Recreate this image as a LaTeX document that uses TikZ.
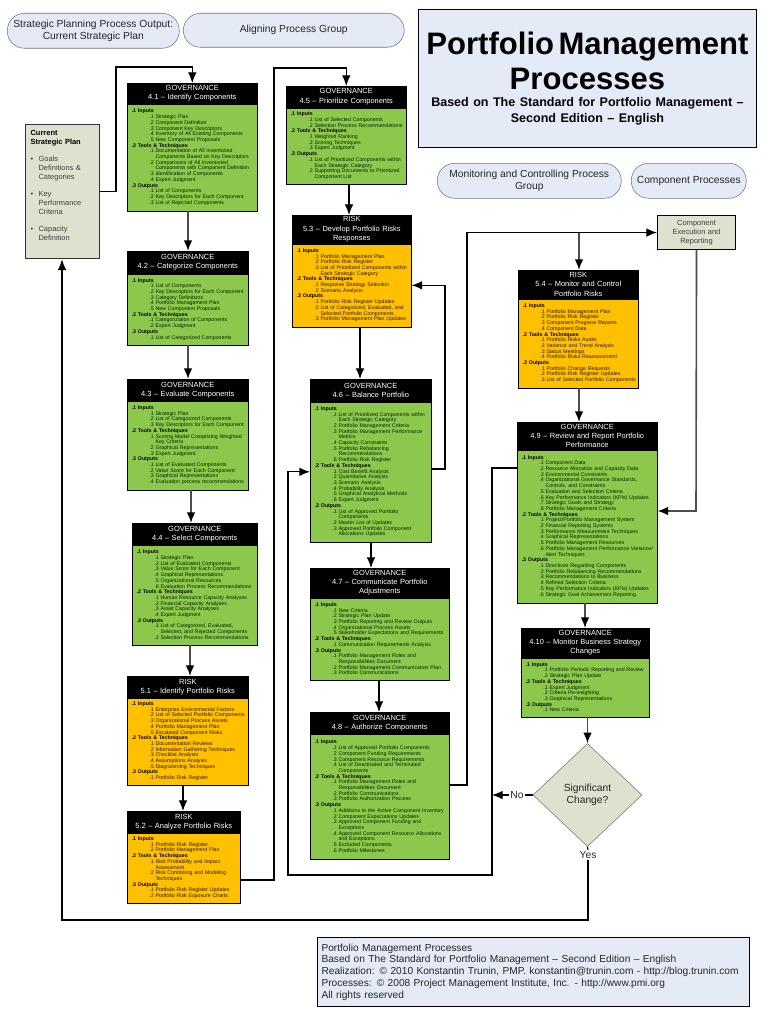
\documentclass[tikz,border=0pt]{standalone}
\usepackage{fontspec}
\setmainfont{Liberation Sans}
\usetikzlibrary{positioning,shapes.geometric,arrows.meta}
\definecolor{govgreen}{HTML}{8CC84B}
\definecolor{riskorange}{HTML}{FFC000}
\definecolor{paleblue}{HTML}{E4EBF6}
\definecolor{sage}{HTML}{DDE1CD}
\newcommand{\pxu}{0.75pt}
% one line of a box body
\newcommand{\secln}[1]{\textcolor{black}{\bfseries #1}\par}
\newcommand{\sInp}{\secln{.1 Inputs}}
\newcommand{\sTT}{\secln{.2 Tools \& Techniques}}
\newcommand{\sOut}{\secln{.3 Outputs}}
\newcommand{\itm}[2]{\makebox[0pt][l]{\hspace*{12.9pt}\makebox[3.6pt][r]{#1}\hspace{1.3pt}#2}\par}
\newcommand{\contln}[1]{\makebox[0pt][l]{\hspace*{17.8pt}#1}\par}
\newcommand{\bul}{\makebox[6pt][l]{\textbullet}}
% id, style, x, y, width, header height, height, header, body
\newcommand{\procbox}[9]{%
  \node[headbox,text width=#5*\pxu,minimum height=#6*\pxu] (h#1) at (#3,#4) {#8};
  \node[#2,text width=#5*\pxu-9*\pxu,minimum height=#7*\pxu-#6*\pxu] (b#1) at (h#1.south west) {#9};
}
\tikzset{
  headbox/.style={draw=black,fill=black,text=white,anchor=north west,inner sep=0pt,align=center,font=\fontsize{5.6}{6.9}\selectfont},
  bodybox/.style={draw=black,anchor=north west,inner xsep=4.5*\pxu,inner ysep=0pt,align=left,font=\fontsize{3.95}{4.28}\selectfont},
  govbody/.style={bodybox,fill=govgreen,text=black!75!green!60!black},
  riskbody/.style={bodybox,fill=riskorange,text=black!80!orange},
  pill/.style={draw=black!55,fill=paleblue,rounded corners=13pt,anchor=north west,inner sep=0pt,align=center,text=black!85,font=\fontsize{7.7}{8.9}\selectfont},
  flow/.style={draw=black,line width=0.85pt,-{Latex[length=8pt,width=6.5pt]}},
  flowgray/.style={draw=black!70,line width=1.2pt,-{Latex[length=8pt,width=6.5pt,black]}},
  plainline/.style={draw=black,line width=0.85pt},
}
\begin{document}
\begin{tikzpicture}[x=0.75pt,y=-0.75pt]
\useasboundingbox (0,0) rectangle (768,1024);

% top pills and title
\node[pill,minimum width=172*\pxu,minimum height=35*\pxu] (pStrat) at (7,13) {Strategic Planning Process Output:\\Current Strategic Plan};
\node[pill,minimum width=221*\pxu,minimum height=34*\pxu] (pAlign) at (183,13) {Aligning Process Group};
\node[pill,minimum width=184*\pxu,minimum height=35*\pxu] (pMon) at (437,163) {Monitoring and Controlling Process\\Group};
\node[pill,minimum width=115*\pxu,minimum height=35*\pxu] (pComp) at (631,163) {Component Processes};
\node[draw=black,line width=0.7pt,fill=paleblue,anchor=north west,inner sep=0pt,text width=338*\pxu,minimum height=138*\pxu,align=center] (title) at (418,9)
  {\bfseries\fontsize{23.3}{26.2}\selectfont Portfolio Management\\Processes\\[2pt]
   \fontsize{9.4}{10.5}\selectfont Based on The Standard for Portfolio Management –\\Second Edition – English};

\node[draw=black!80,line width=1pt,fill=sage,anchor=north west,inner xsep=3.7pt,inner ysep=0pt,text width=74*\pxu-7.4pt,minimum height=134*\pxu,align=left,text=black!75,font=\fontsize{5.6}{6.75}\selectfont] (sp) at (25,124)
  {\textcolor{black}{\bfseries Current\\Strategic Plan}\\[6pt]
   \bul Goals\\\hspace*{6pt}Definitions \&\\\hspace*{6pt}Categories\\[6pt]
   \bul Key\\\hspace*{6pt}Performance\\\hspace*{6pt}Criteria\\[6pt]
   \bul Capacity\\\hspace*{6pt}Definition\\[2.25pt]\mbox{}};

\node[draw=black,line width=0.8pt,fill=sage,anchor=north west,inner sep=0pt,text width=78*\pxu,minimum height=34*\pxu,align=center,text=black!75,font=\fontsize{5.6}{6.7}\selectfont] (ce) at (657,215) {Component\\Execution and\\Reporting};

% left column
\procbox{41}{govbody}{127}{83}{130}{20}{127}{GOVERNANCE\\4.1 – Identify Components}{%
\sInp\itm{.1}{Strategic Plan}\itm{.2}{Component Definition}\itm{.3}{Component Key Descriptors}\itm{.4}{Inventory of All Existing Components}\itm{.5}{New Component Proposals}
\sTT\itm{.1}{Documentation of All Inventoried}\contln{Components Based on Key Descriptors}\itm{.2}{Comparisons of All Inventoried}\contln{Components with Component Definition}\itm{.3}{Identification of Components}\itm{.4}{Expert Judgment}
\sOut\itm{.1}{List of Components}\itm{.2}{Key Descriptors for Each Component}\itm{.3}{List of Rejected Components}}

\procbox{42}{govbody}{127}{251}{121}{22}{93}{GOVERNANCE\\4.2 – Categorize Components}{%
\sInp\itm{.1}{List of Components}\itm{.2}{Key Descriptors for Each Component}\itm{.3}{Category Definitions}\itm{.4}{Portfolio Management Plan}\itm{.5}{New Component Proposals}
\sTT\itm{.1}{Categorization of Components}\itm{.2}{Expert Judgment}
\sOut\itm{.1}{List of Categorized Components}}

\procbox{43}{govbody}{127}{379}{121}{21}{110}{GOVERNANCE\\4.3 – Evaluate Components}{%
\sInp\itm{.1}{Strategic Plan}\itm{.2}{List of Categorized Components}\itm{.3}{Key Descriptors for Each Component}
\sTT\itm{.1}{Scoring Model Comprising Weighted}\contln{Key Criteria}\itm{.2}{Graphical Representations}\itm{.3}{Expert Judgment}
\sOut\itm{.1}{List of Evaluated Components}\itm{.2}{Value Score for Each Component}\itm{.3}{Graphical Representations}\itm{.4}{Evaluation process recommendations}}

\procbox{44}{govbody}{132}{523}{125}{21}{121}{GOVERNANCE\\4.4 – Select Components}{%
\sInp\itm{.1}{Strategic Plan}\itm{.2}{List of Evaluated Components}\itm{.3}{Value Score for Each Component}\itm{.4}{Graphical Representations}\itm{.5}{Organizational Resources}\itm{.6}{Evaluation Process Recommendations}
\sTT\itm{.1}{Human Resource Capacity Analyses}\itm{.2}{Financial Capacity Analyses}\itm{.3}{Asset Capacity Analyses}\itm{.4}{Expert Judgment}
\sOut\itm{.1}{List of Categorized, Evaluated,}\contln{Selected, and Rejected Components}\itm{.2}{Selection Process Recommendations}}

\procbox{51}{riskbody}{127}{676}{121}{21}{108}{RISK\\5.1 – Identify Portfolio Risks}{%
\sInp\itm{.1}{Enterprise Environmental Factors}\itm{.2}{List of Selected Portfolio Components}\itm{.3}{Organizational Process Assets}\itm{.4}{Portfolio Management Plan}\itm{.5}{Escalated Component Risks}
\sTT\itm{.1}{Documentation Reviews}\itm{.2}{Information Gathering Techniques}\itm{.3}{Checklist Analysis}\itm{.4}{Assumptions Analysis}\itm{.5}{Diagramming Techniques}
\sOut\itm{.1}{Portfolio Risk Register}}

\procbox{52}{riskbody}{127}{811}{113}{21}{91}{RISK\\5.2 – Analyze Portfolio Risks}{%
\sInp\itm{.1}{Portfolio Risk Register}\itm{.2}{Portfolio Management Plan}
\sTT\itm{.1}{Risk Probability and Impact}\contln{Assessment}\itm{.2}{Risk Combining and Modeling}\contln{Techniques}
\sOut\itm{.1}{Portfolio Risk Register Updates}\itm{.2}{Portfolio Risk Exposure Charts}}

% middle column
\procbox{45}{govbody}{286}{86}{120}{21}{97}{GOVERNANCE\\4.5 – Prioritize Components}{%
\sInp\itm{.1}{List of Selected Components}\itm{.2}{Selection Process Recommendations}
\sTT\itm{.1}{Weighted Ranking}\itm{.2}{Scoring Techniques}\itm{.3}{Expert Judgment}
\sOut\itm{.1}{List of Prioritized Components within}\contln{Each Strategic Category}\itm{.2}{Supporting Documents to Prioritized}\contln{Component List}}

\procbox{53}{riskbody}{292}{215}{119}{28}{111}{RISK\\5.3 – Develop Portfolio Risks\\Responses}{%
\sInp\itm{.1}{Portfolio Management Plan}\itm{.2}{Portfolio Risk Register}\itm{.3}{List of Prioritized Components within}\contln{Each Strategic Category}
\sTT\itm{.1}{Response Strategy Selection}\itm{.2}{Scenario Analysis}
\sOut\itm{.1}{Portfolio Risk Register Updates}\itm{.2}{List of Categorized, Evaluated, and}\contln{Selected Portfolio Components}\itm{.3}{Portfolio Management Plan Updates}}

\procbox{46}{govbody}{310}{379}{121}{22}{162}{GOVERNANCE\\4.6 – Balance Portfolio}{%
\sInp\itm{.1}{List of Prioritized Components within}\contln{Each Strategic Category}\itm{.2}{Portfolio Management Criteria}\itm{.3}{Portfolio Management Performance}\contln{Metrics}\itm{.4}{Capacity Constraints}\itm{.5}{Portfolio Rebalancing}\contln{Recommendations}\itm{.6}{Portfolio Risk Register}
\sTT\itm{.1}{Cost Benefit Analysis}\itm{.2}{Quantitative Analysis}\itm{.3}{Scenario Analysis}\itm{.4}{Probability Analysis}\itm{.5}{Graphical Analytical Methods}\itm{.6}{Expert Judgment}
\sOut\itm{.1}{List of Approved Portfolio}\contln{Components}\itm{.2}{Master List of Updates}\itm{.3}{Approved Portfolio Component}\contln{Allocations Updates}}

\procbox{47}{govbody}{310}{568}{139}{29}{111}{GOVERNANCE\\4.7 – Communicate Portfolio\\Adjustments}{%
\sInp\itm{.1}{New Criteria}\itm{.2}{Strategic Plan Update}\itm{.3}{Portfolio Reporting and Review Outputs}\itm{.4}{Organizational Process Assets}\itm{.5}{Stakeholder Expectations and Requirements}
\sTT\itm{.1}{Communication Requirements Analysis}
\sOut\itm{.1}{Portfolio Management Roles and}\contln{Responsibilities Document}\itm{.2}{Portfolio Management Communication Plan}\itm{.3}{Portfolio Communications}}

\procbox{48}{govbody}{310}{712}{139}{21}{146}{GOVERNANCE\\4.8 – Authorize Components}{%
\sInp\itm{.1}{List of Approved Portfolio Components}\itm{.2}{Component Funding Requirements}\itm{.3}{Component Resource Requirements}\itm{.4}{List of Deactivated and Terminated}\contln{Components}
\sTT\itm{.1}{Portfolio Management Roles and}\contln{Responsibilities Document}\itm{.2}{Portfolio Communications}\itm{.3}{Portfolio Authorization Process}
\sOut\itm{.1}{Additions to the Active Component Inventory}\itm{.2}{Component Expectations Updates}\itm{.3}{Approved Component Funding and}\contln{Exceptions}\itm{.4}{Approved Component Resource Allocations}\contln{and Exceptions}\itm{.5}{Excluded Components}\itm{.6}{Portfolio Milestones}}

% right column
\procbox{54}{riskbody}{518}{270}{120}{28}{117}{RISK\\5.4 – Monitor and Control\\Portfolio Risks}{%
\sInp\itm{.1}{Portfolio Management Plan}\itm{.2}{Portfolio Risk Register}\itm{.3}{Component Progress Reports}\itm{.4}{Component Data}
\sTT\itm{.1}{Portfolio Risks Audits}\itm{.2}{Variance and Trend Analysis}\itm{.3}{Status Meetings}\itm{.4}{Portfolio Risks Reassessment}
\sOut\itm{.1}{Portfolio Change Requests}\itm{.2}{Portfolio Risk Register Updates}\itm{.3}{List of Selected Portfolio Components}}

\procbox{49}{govbody}{517}{422}{140}{27}{180}{GOVERNANCE\\4.9 – Review and Report Portfolio\\Performance}{%
\sInp\itm{.1}{Component Data}\itm{.2}{Resource Allocation and Capacity Data}\itm{.3}{Environmental Constraints}\itm{.4}{Organizational Governance Standards,}\contln{Controls, and Constraints}\itm{.5}{Evaluation and Selection Criteria}\itm{.6}{Key Performance Indicators (KPIs) Updates}\itm{.7}{Strategic Goals and Strategy}\itm{.8}{Portfolio Management Criteria}
\sTT\itm{.1}{Project/Portfolio Management System}\itm{.2}{Financial Reporting Systems}\itm{.3}{Performance Measurement Techniques}\itm{.4}{Graphical Representations}\itm{.5}{Portfolio Management Resources}\itm{.6}{Portfolio Management Performance Variance/}\contln{Alert Techniques}
\sOut\itm{.1}{Directives Regarding Components}\itm{.2}{Portfolio Rebalancing Recommendations}\itm{.3}{Recommendations to Business}\itm{.4}{Refined Selection Criteria}\itm{.5}{Key Performance Indicators (KPIs) Updates}\itm{.6}{Strategic Goal Achievement Reporting}}

\procbox{410}{govbody}{521}{628}{128}{29}{88}{GOVERNANCE\\4.10 – Monitor Business Strategy\\Changes}{%
\sInp\itm{.1}{Portfolio Periodic Reporting and Review}\itm{.2}{Strategic Plan Update}
\sTT\itm{.1}{Expert Judgment}\itm{.2}{Criteria Re-weighting}\itm{.3}{Graphical Representations}
\sOut\itm{.1}{New Criteria}}

\node[diamond,draw=black!55,fill=sage,aspect=1.06,inner sep=0pt,minimum width=109*\pxu,minimum height=103*\pxu,align=center,text=black!85,font=\fontsize{7.7}{8.9}\selectfont] (dChange) at (587.5,795) {Significant\\Change?};
\node[inner sep=1pt,text=black!85,font=\fontsize{7.7}{8.9}\selectfont] (lYes) at (588,855) {Yes};
\node[inner sep=1pt,text=black!85,font=\fontsize{7.7}{8.9}\selectfont] (lNo) at (517,795) {No};

\node[draw=black,line width=0.8pt,fill=paleblue,anchor=north west,inner xsep=3pt,inner ysep=0pt,text width=432*\pxu-6pt,minimum height=69*\pxu,align=left,text=black!85,font=\fontsize{7.62}{8.8}\selectfont] (foot) at (317,937)
  {Portfolio Management Processes\\Based on The Standard for Portfolio Management – Second Edition – English\\Realization: © 2010 Konstantin Trunin, PMP. konstantin@trunin.com - http://blog.trunin.com\\Processes: © 2008 Project Management Institute, Inc. - http://www.pmi.org\\All rights reserved};

% connectors
\foreach \n/\x in {42/188,43/188,44/191,51/190,52/183,53/349,46/360,47/371,48/379,54/579,49/579,410/585}{
  \coordinate (v\n) at (\x,0);
}
\foreach \a/\b/\s in {41/42/flowgray,42/43/flowgray,43/44/flowgray,44/51/flowgray,51/52/flow,45/53/flow,53/46/flow,46/47/flow,47/48/flow,54/49/flowgray,49/410/flowgray}{
  \draw[\s] (b\a.south -| v\b) -- (h\b.north -| v\b);
}
\draw[flowgray] (b410.south -| dChange.north) -- (dChange.north);

\coordinate (cStrat) at (116,67);
\draw[flow] (sp.east) -| (cStrat) -| (h41.north);

\coordinate (cRiskA) at (274,880);
\coordinate (cRiskB) at (274,68);
\draw[flow] (b52.east |- cRiskA) -- (cRiskA) -- (cRiskB) -| (h45.north);

\coordinate (cBal) at (445,469);
\draw[flow] (cBal -| b46.east) -- (cBal) |- (b53.east);

\coordinate (cAuth) at (467,785);
\draw[flow] (cAuth -| b48.east) -- (cAuth) |- (ce.west);
\draw[flowgray] (ce.west -| v54) -- (h54.north -| v54);

\coordinate (cRevA) at (492,468);
\coordinate (cRevB) at (492,875);
\coordinate (cRevC) at (288,875);
\draw[flow] (cRevA -| b49.west) -- (cRevA) -- (cRevB) -- (cRevC) |- (b46.west);

\coordinate (cExec) at (696,511);
\draw[flowgray] (ce.south) -- (cExec) -- (cExec -| b49.east);

\draw[plainline] (dChange.west) -- (lNo.east);
\draw[flow] (lNo.west) -- (lNo -| cRevA);
\draw[plainline] (dChange.south) -- (lYes.north);
\coordinate (cYesA) at (588,920);
\coordinate (cYesB) at (62,920);
\draw[flow] (lYes.south) -- (cYesA) -- (cYesB) -- (cYesB |- sp.south);
\end{tikzpicture}
\end{document}
